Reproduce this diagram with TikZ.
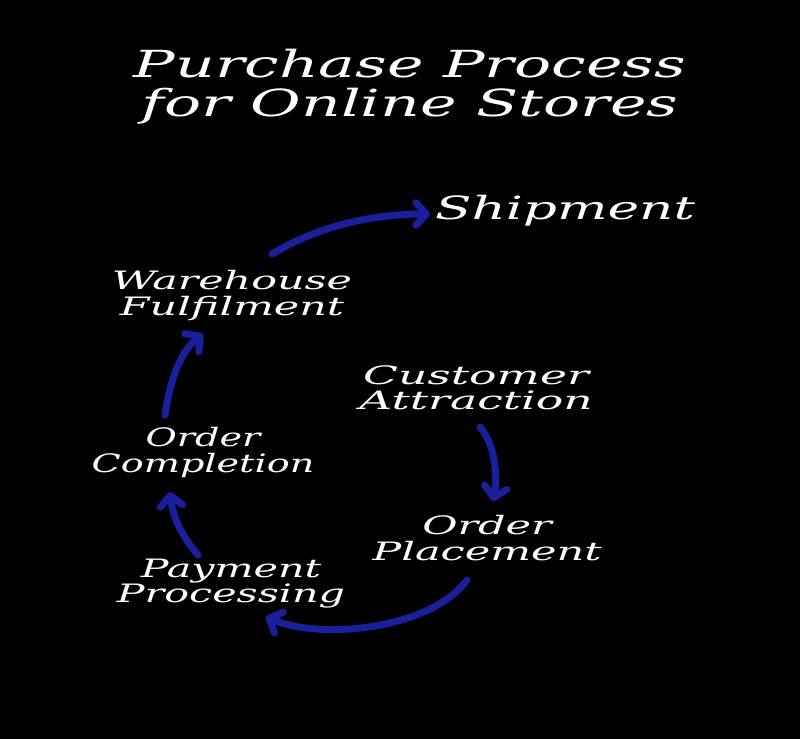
\documentclass[tikz,border=0pt]{standalone}
\usepackage{fontspec}
\usepackage{graphicx}
\setmainfont{DejaVu Serif}
\usetikzlibrary{arrows.meta}
\definecolor{arrowblue}{RGB}{24,32,160}
\newcommand\fitw[2]{\resizebox{#1pt}{\height}{\begin{tabular}{@{}c@{}}#2\end{tabular}}}
\tikzset{
  lbl/.style={text=white, align=center, font=\itshape\fontsize{19}{16.5}\selectfont, inner sep=0pt},
  ttl/.style={text=white, align=center, font=\itshape\fontsize{28}{27}\selectfont, inner sep=0pt},
  flow/.style={draw=arrowblue, line width=5.2pt, line cap=round,
    -{Straight Barb[length=8pt,width=17pt,line cap=round,line join=round]}}
}
\begin{document}
\begin{tikzpicture}[x=0.75pt,y=-0.75pt]
\fill[black] (0,0) rectangle (800,739);
\useasboundingbox (0,0) rectangle (800,739);
\node[ttl] (title) at (410,88) {\fitw{414}{Purchase Process\\for Online Stores}};
\node[lbl, font=\itshape\fontsize{24}{24}\selectfont] (ship) at (565,212) {\fitw{195}{Shipment}};
\node[lbl] (wh) at (232,296) {\fitw{180}{Warehouse\\Fulfilment}};
\node[lbl] (ca) at (476,391) {\fitw{175}{Customer\\Attraction}};
\node[lbl] (oc) at (203,453) {\fitw{167}{Order\\Completion}};
\node[lbl] (op) at (487,541) {\fitw{172}{Order\\Placement}};
\node[lbl] (pp) at (231,584) {\fitw{171}{Payment\\Processing}};

\coordinate (a1s) at (272,254);
\coordinate (a1e) at (430,214);
\coordinate (a2s) at (165,415);
\coordinate (a2e) at (203,334);
\coordinate (a3s) at (198,555);
\coordinate (a3e) at (170,492);
\coordinate (a4s) at (480,427);
\coordinate (a4e) at (493,501);
\coordinate (a5s) at (467,580);
\coordinate (a5e) at (266,617);

\draw[flow] (a1s) .. controls (320,225) and (375,214) .. (a1e);
\draw[flow] (a2s) .. controls (170,380) and (180,352) .. (a2e);
\draw[flow] (a3s) .. controls (185,540) and (173,520) .. (a3e);
\draw[flow] (a4s) .. controls (495,445) and (498,475) .. (a4e);
\draw[flow] (a5s) .. controls (430,630) and (320,640) .. (a5e);
\end{tikzpicture}
\end{document}
